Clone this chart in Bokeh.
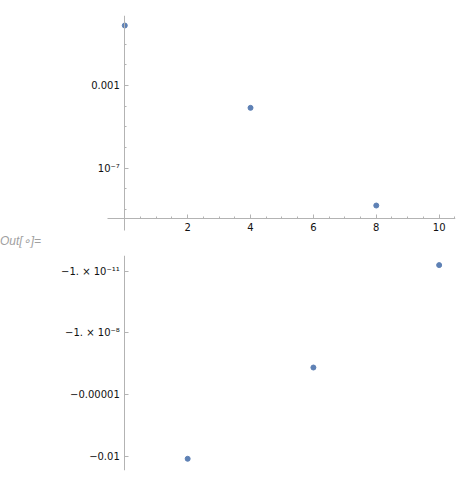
from bokeh.plotting import figure
from bokeh.models import FixedTicker, Range1d, LinearAxis, LogAxis, Div
from bokeh.layouts import column
from bokeh.embed import file_html
from bokeh.resources import INLINE

# ---- data ----
x_top = [0, 4, 8]
y_top = [0.80, 8.3e-5, 1.56e-9]

x_bottom = [2, 6, 10]
y_bottom = [-0.0135, -4.9e-7, -5.1e-12]

x_major = [2, 4, 6, 8, 10]
x_minor = [0.5, 1, 1.5, 2.5, 3, 3.5, 4.5, 5, 5.5, 6.5, 7, 7.5, 8.5, 9, 9.5, 10.5]

top_major = [1e-3, 1e-7]
top_minor = [1e-1, 1e-2, 1e-4, 1e-5, 1e-6, 1e-8, 1e-9]
top_labels = ["0.001", "10\u207b\u2077"]

bottom_major = [-1e-11, -1e-8, -1e-5, -1e-2]
bottom_labels = ["\u22121. \u00d7 10\u207b\u00b9\u00b9", "\u22121. \u00d7 10\u207b\u2078",
                 "\u22120.00001", "\u22120.01"]

# ---- style / layout ----
DOT = "#5E81B5"
AXIS = "#b3b3b3"
FONT = "DejaVu Sans"
FS = "10px"
X_VIEW = (-2.681, 10.52)      # frame spans wider than the axis so labels are not clipped
X_AXIS_SPAN = (-0.55, 10.52)  # visible extent of the horizontal axis rule
TOP_VIEW = (10 ** -10.402, 10 ** 0.387)
TOP_AXIS_SPAN = (10 ** -10.015, 10 ** 0.387)
TOP_X_AXIS_AT = 10 ** -9.42
BOTTOM_VIEW = (10 ** -1.30, 10 ** -11.76)


def style_axis(ax, ticker, labels_map=None):
    ax.ticker = ticker
    ax.axis_line_color = AXIS
    ax.major_tick_line_color = AXIS
    ax.minor_tick_line_color = AXIS
    ax.major_tick_out = 0
    ax.major_tick_in = 4
    ax.minor_tick_out = 0
    ax.minor_tick_in = 2
    ax.major_label_standoff = 5
    ax.major_label_text_font = FONT
    ax.major_label_text_font_size = FS
    ax.major_label_text_color = "#111111"
    if labels_map:
        ax.major_label_overrides = labels_map


# ---- top plot: positive values on a log axis ----
top = figure(width=474, height=238, output_backend="svg", toolbar_location=None,
             y_axis_type="log", x_axis_location=None, y_axis_location=None,
             x_range=Range1d(*X_VIEW), y_range=Range1d(*TOP_VIEW),
             min_border_left=40, min_border_right=19,
             min_border_top=15, min_border_bottom=0)
top.outline_line_color = None
top.grid.visible = False
top.scatter(x_top, y_top, size=5, color=DOT)

tx = LinearAxis(fixed_location=TOP_X_AXIS_AT, bounds=X_AXIS_SPAN)
style_axis(tx, FixedTicker(ticks=x_major, minor_ticks=x_minor))
top.add_layout(tx, "below")

ty = LogAxis(fixed_location=0, bounds=TOP_AXIS_SPAN)
style_axis(ty, FixedTicker(ticks=top_major, minor_ticks=top_minor),
           dict(zip(top_major, top_labels)))
top.add_layout(ty, "left")

# ---- the notebook output prompt ----
prompt = Div(text="Out[\u2218]=", width=474, height=9, margin=(0, 0, 0, 0),
             styles={"font-family": "Liberation Sans", "font-style": "italic",
                     "font-size": "12px", "line-height": "7px",
                     "color": "#a0a0a0"})

# ---- bottom plot: negative values, log of magnitude ----
bottom = figure(width=474, height=228, output_backend="svg", toolbar_location=None,
                y_axis_type="log", x_axis_location=None, y_axis_location=None,
                x_range=Range1d(*X_VIEW), y_range=Range1d(*BOTTOM_VIEW),
                min_border_left=40, min_border_right=19,
                min_border_top=8, min_border_bottom=5)
bottom.outline_line_color = None
bottom.grid.visible = False
bottom.scatter(x_bottom, [abs(v) for v in y_bottom], size=5, color=DOT)

mags = [abs(v) for v in bottom_major]
by = LogAxis(fixed_location=0)
style_axis(by, FixedTicker(ticks=mags, minor_ticks=[]), dict(zip(mags, bottom_labels)))
bottom.add_layout(by, "left")

layout = column(top, prompt, bottom, spacing=0)
open("out.html", "w").write(file_html(layout, INLINE))
